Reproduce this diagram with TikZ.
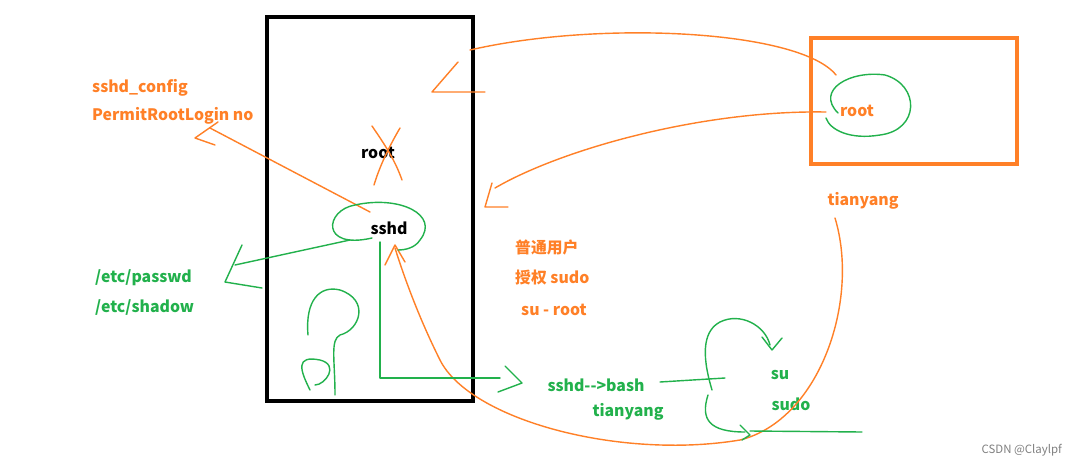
\documentclass[tikz,border=0pt]{standalone}
\usepackage{fontspec}
\setmainfont{Noto Sans CJK SC}
\usetikzlibrary{calc}
\definecolor{pen}{RGB}{255,128,39}
\definecolor{ink}{RGB}{34,177,76}
\tikzset{
  otext/.style={text=pen,font=\bfseries\fontsize{9}{10}\selectfont},
  gtext/.style={text=ink,font=\bfseries\fontsize{9}{10}\selectfont},
  ktext/.style={text=black,font=\bfseries\fontsize{9}{10}\selectfont},
  oline/.style={draw=pen,line width=0.8pt,line cap=round,line join=round},
  gline/.style={draw=ink,line width=0.8pt,line cap=round,line join=round},
}
\begin{document}
\begin{tikzpicture}[x=0.02cm,y=-0.02cm]
  \useasboundingbox[fill=white] (0,0) rectangle (1082,467);
  % boxes
  \draw[line width=2.2pt] (267,17) rectangle (473,401);
  \draw[pen,line width=2.2pt] (811,38) rectangle (1017,164);
  % texts
  \node[otext,anchor=west] (cfg) at (86,88) {sshd\_config};
  \node[otext,anchor=west] (permit) at (86,116) {PermitRootLogin no};
  \node[ktext] (root1) at (378,153) {root};
  \node[ktext] (sshd) at (389,228) {sshd};
  \node[otext] (root2) at (857,111) {root};
  \node[otext] (ty1) at (863,201) {tianyang};
  \node[otext,anchor=west] (user) at (509,248) {普通用户};
  \node[otext,anchor=west] (sudo1) at (509,278) {授权 sudo};
  \node[otext,anchor=west] (suroot) at (515,310) {su - root};
  \node[gtext,anchor=west] (passwd) at (89,278) {/etc/passwd};
  \node[gtext,anchor=west] (shadow) at (89,308) {/etc/shadow};
  \node[gtext] (bash) at (596,385) {sshd{-}{-}>bash};
  \node[gtext] (ty2) at (628,412) {tianyang};
  \node[gtext] (su) at (780,375) {su};
  \node[gtext] (sudo2) at (791,404) {sudo};
  \node[text=gray,font=\fontsize{6.5}{7}\selectfont,anchor=east] (mark) at (1068,450) {CSDN @Claylpf};
  % orange strokes
  \draw[oline] (836,75) .. controls (800,30) and (600,20) .. (470,50);
  \draw[oline] (458,62) -- (432,92) -- (485,92);
  \draw[oline] (826,112) .. controls (700,110) and (560,150) .. (495,188);
  \draw[oline] (492,183) -- (485,207) -- (508,207);
  \draw[oline] (372,126) .. controls (385,145) and (395,160) .. (402,180);
  \draw[oline] (400,128) .. controls (390,145) and (380,165) .. (374,185);
  \draw[oline] (370,212) -- (210,128);
  \draw[oline] (218,122) -- (195,138) -- (215,145);
  \draw[oline] (835,218) .. controls (860,300) and (820,420) .. (740,440)
        .. controls (620,460) and (470,420) .. (440,360)
        .. controls (420,320) and (405,280) .. (395,248);
  \draw[oline] (385,265) -- (395,245) -- (405,262);
  % green strokes
  \draw[gline] (372,238) .. controls (320,250) and (325,210) .. (355,205)
        .. controls (400,195) and (440,215) .. (420,240)
        .. controls (415,248) and (405,250) .. (398,250);
  \draw[gline] (350,240) -- (235,265);
  \draw[gline] (242,245) -- (225,282) -- (262,288);
  \draw[gline] (380,242) -- (380,378) -- (500,378);
  \draw[gline] (505,366) -- (522,383) -- (498,392);
  \draw[gline] (660,382) -- (725,378);
  \draw[gline] (308,335) .. controls (305,300) and (320,285) .. (340,290)
        .. controls (370,300) and (360,330) .. (340,335)
        .. controls (330,340) and (335,360) .. (335,395);
  \draw[gline] (310,390) .. controls (300,370) and (295,355) .. (320,360)
        .. controls (340,365) and (325,385) .. (315,385);
  \draw[gline] (712,390) .. controls (700,350) and (705,330) .. (720,322)
        .. controls (740,312) and (765,325) .. (770,345);
  \draw[gline] (762,337) -- (772,350) -- (782,338);
  \draw[gline] (708,395) .. controls (700,420) and (710,432) .. (745,432);
  \draw[gline] (740,425) -- (750,435) -- (742,440);
  \draw[gline] (750,431) -- (862,432);
  \draw[gline] (838,113) .. controls (815,90) and (850,70) .. (885,75)
        .. controls (920,85) and (920,130) .. (880,135)
        .. controls (850,140) and (830,130) .. (826,118);
\end{tikzpicture}
\end{document}
